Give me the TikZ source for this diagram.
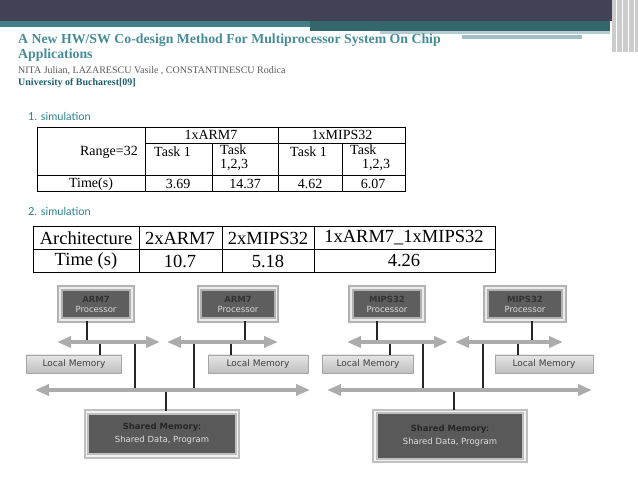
\documentclass[tikz,border=0pt]{standalone}
\usepackage{fontspec}
\setmainfont{Liberation Serif}
\newfontfamily\lato{Lato}
\newfontfamily\dvs{DejaVu Sans}
\usepackage{xcolor}
\usetikzlibrary{arrows.meta}
\definecolor{darkband}{RGB}{66,66,86}
\definecolor{tealband}{RGB}{64,128,134}
\definecolor{titleteal}{RGB}{70,140,150}
\definecolor{uniteal}{RGB}{30,95,110}
\definecolor{simteal}{RGB}{40,130,140}
\tikzset{
  cell/.style={inner sep=0pt, font=\fontsize{14}{14}\selectfont},
  bigcell/.style={inner sep=0pt, font=\fontsize{18.5}{18.5}\selectfont},
  grid/.style={line width=0.8pt},
  proc/.style={draw=gray!60, line width=2pt, fill=gray!60!black!90, double=gray!15, double distance=1.5pt, align=center, inner sep=2pt, font=\dvs\fontsize{8.5}{10}\selectfont},
  locmem/.style={draw=gray!70, top color=gray!20, bottom color=gray!50, inner sep=0pt, font=\dvs\fontsize{9}{9}\selectfont, text=black!75},
  shmem/.style={draw=gray!50, line width=2pt, fill=gray!55!black!90, double=gray!10, double distance=1.5pt, align=center, inner sep=2pt, font=\dvs\fontsize{8.5}{13}\selectfont},
  bus/.style={line width=4pt, draw=gray!65, {Triangle[width=11pt,length=14pt]}-{Triangle[width=11pt,length=14pt]}},
  wire/.style={line width=1.8pt, draw=black!85}
}
\begin{document}
\begin{tikzpicture}[x=1pt,y=-1pt]
\useasboundingbox (0,0) rectangle (638,478);

% header bands
\fill[darkband] (0,0) rectangle (638,21);
\fill[tealband] (0,21) rectangle (310,27);
\fill[tealband!80!black] (310,21) rectangle (610,31);
\fill[tealband!40] (380,31) rectangle (610,34);
\fill[tealband!50] (462,35) rectangle (582,39);
\fill[gray!40] (612,0) rectangle (638,52);
\foreach \x in {616,622,628,634} \draw[white, line width=1pt] (\x,0) -- (\x,52);

% title
\node[anchor=north west, inner sep=0pt, text=titleteal, align=left, font=\bfseries\fontsize{13.8}{15}\selectfont] (title) at (18,34)
  {A New HW/SW Co-design Method For Multiprocessor System On Chip\\Applications};
\node[anchor=north west, inner sep=0pt, text=gray!70!black, font=\fontsize{10}{10}\selectfont] (authors) at (18,66)
  {NITA Julian, LAZARESCU Vasile , CONSTANTINESCU Rodica};
\node[anchor=north west, inner sep=0pt, text=uniteal, font=\bfseries\fontsize{10}{10}\selectfont] (univ) at (18,78)
  {University of Bucharest[09]};

% table 1
\node[anchor=west, inner sep=0pt, text=simteal, font=\lato\fontsize{11}{12}\selectfont] (sim1) at (28,116) {1. simulation};
\draw[grid] (37,127) rectangle (405,191);
\draw[grid] (145,143) -- (405,143);
\draw[grid] (37,175) -- (405,175);
\foreach \x in {145,278} \draw[grid] (\x,127) -- (\x,191);
\foreach \x in {212,342} \draw[grid] (\x,143) -- (\x,191);
\node[cell] (armh) at (211,135) {1xARM7};
\node[cell] (mipsh) at (342,135) {1xMIPS32};
\node[cell, anchor=east] (range) at (138,152) {Range=32};
\node[cell, anchor=west] (t1a) at (154,152) {Task 1};
\node[cell, anchor=north west, align=left] (t2a) at (220,145) {Task\\1,2,3};
\node[cell, anchor=west] (t1b) at (290,152) {Task 1};
\node[cell, anchor=north west, align=left] (t2b) at (350,145) {Task\\\hspace*{12pt}1,2,3};
\node[cell] (time1) at (91,184) {Time(s)};
\node[cell] (v1) at (178,184) {3.69};
\node[cell] (v2) at (245,184) {14.37};
\node[cell] (v3) at (310,184) {4.62};
\node[cell] (v4) at (373,184) {6.07};

% table 2
\node[anchor=west, inner sep=0pt, text=simteal, font=\lato\fontsize{11}{12}\selectfont] (sim2) at (28,211) {2. simulation};
\draw[grid] (33,226) rectangle (495,272);
\draw[grid] (33,249) -- (495,249);
\foreach \x in {139,222,314} \draw[grid] (\x,226) -- (\x,272);
\node[bigcell] (arch) at (86,238) {Architecture};
\node[bigcell] (c2arm) at (180,238) {2xARM7};
\node[bigcell] (c2mips) at (268,238) {2xMIPS32};
\node[bigcell] (cmix) at (404,238) {1xARM7\_1xMIPS32};
\node[bigcell] (timeb) at (86,261) {Time (s)};
\node[bigcell] (w1) at (180,261) {10.7};
\node[bigcell] (w2) at (268,261) {5.18};
\node[bigcell] (w3) at (404,261) {4.26};

% left architecture
\node[proc, minimum width=72pt, minimum height=32pt] (pa) at (96,304) {\textbf{\color{black!80}ARM7}\\\color{gray!30}Processor};
\node[proc, minimum width=77pt, minimum height=32pt] (pb) at (238,304) {\textbf{\color{black!80}ARM7}\\\color{gray!30}Processor};
\coordinate (la1) at (57,342); \coordinate (la2) at (160,342);
\coordinate (lb1) at (167,342); \coordinate (lb2) at (278,342);
\node[locmem, minimum width=95pt, minimum height=18pt] (ma) at (74,364) {Local Memory};
\node[locmem, minimum width=100pt, minimum height=18pt] (mb) at (258,364) {Local Memory};
\coordinate (sa1) at (35,390); \coordinate (sa2) at (310,390);
\node[shmem, minimum width=151pt, minimum height=44pt] (sha) at (162,434) {\textbf{\color{black!85}Shared Memory}:\\\color{gray!25}Shared Data, Program};
\draw[wire] (pa.south -| 87,0) -- (87,342);
\draw[wire] (pb.south -| 245,0) -- (245,342);
\draw[wire] (100,342) -- (ma.north -| 100,0);
\draw[wire] (231,342) -- (mb.north -| 231,0);
\draw[wire] (135,342) -- (135,390);
\draw[wire] (194,342) -- (194,390);
\draw[wire] (166,390) -- (sha.north -| 166,0);
\draw[bus] (la1) -- (la2);
\draw[bus] (lb1) -- (lb2);
\draw[bus] (sa1) -- (sa2);

% right architecture
\node[proc, minimum width=72pt, minimum height=32pt] (pc) at (387,304) {\textbf{\color{black!80}MIPS32}\\\color{gray!30}Processor};
\node[proc, minimum width=78pt, minimum height=32pt] (pd) at (525,304) {\textbf{\color{black!80}MIPS32}\\\color{gray!30}Processor};
\coordinate (lc1) at (347,342); \coordinate (lc2) at (448,342);
\coordinate (ld1) at (455,342); \coordinate (ld2) at (563,342);
\node[locmem, minimum width=91pt, minimum height=18pt] (mc) at (368,364) {Local Memory};
\node[locmem, minimum width=98pt, minimum height=18pt] (md) at (544,364) {Local Memory};
\coordinate (sc1) at (327,390); \coordinate (sc2) at (592,390);
\node[shmem, minimum width=150pt, minimum height=49pt] (shc) at (450,436) {\textbf{\color{black!85}Shared Memory}:\\\color{gray!25}Shared Data, Program};
\draw[wire] (pc.south -| 377,0) -- (377,342);
\draw[wire] (pd.south -| 532,0) -- (532,342);
\draw[wire] (390,342) -- (mc.north -| 390,0);
\draw[wire] (518,342) -- (md.north -| 518,0);
\draw[wire] (423,342) -- (423,390);
\draw[wire] (483,342) -- (483,390);
\draw[wire] (454,390) -- (shc.north -| 454,0);
\draw[bus] (lc1) -- (lc2);
\draw[bus] (ld1) -- (ld2);
\draw[bus] (sc1) -- (sc2);
\end{tikzpicture}
\end{document}
